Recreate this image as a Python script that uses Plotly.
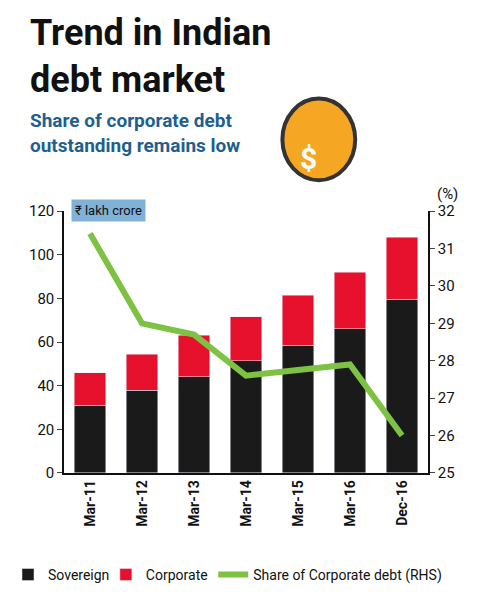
import plotly.graph_objects as go

categories = ["Mar-11","Mar-12","Mar-13","Mar-14","Mar-15","Mar-16","Dec-16"]
sovereign = [31, 38, 44, 51.5, 58.5, 66, 79.5]
corporate = [15, 16.5, 19, 20, 23, 26, 28.5]
share_corp = [31.4, 29.0, 28.7, 27.6, 27.75, 27.9, 26.0]

fig = go.Figure()
fig.add_bar(x=categories, y=sovereign, name="Sovereign", marker_color="#1a1a1a", width=0.6, legend="legend")
fig.add_bar(x=categories, y=corporate, name="Corporate", marker_color="#e8112d", width=0.6, legend="legend2")
fig.add_scatter(x=categories, y=share_corp, name="Share of Corporate debt (RHS)", yaxis="y2",
                mode="lines", line=dict(color="#7dc242", width=6), legend="legend3")

leg = dict(orientation="h", y=0.043, xanchor="left", yanchor="middle", font=dict(size=14),
           itemwidth=30, bgcolor="rgba(0,0,0,0)")
fig.update_layout(
    width=479, height=601, barmode="stack", plot_bgcolor="white", paper_bgcolor="white",
    margin=dict(l=55, r=59, t=0, b=0),
    font=dict(family="Roboto", color="#111", size=14),
    xaxis=dict(domain=[0,1], tickangle=-90, tickfont=dict(size=14, family="Roboto", color="#111"),
               tickprefix="<b>", ticksuffix="</b>",
               showline=True, linecolor="#111", linewidth=1.5, anchor="y"),
    yaxis=dict(domain=[0.218, 0.667], range=[0,120], dtick=20, showgrid=False,
               showline=True, linecolor="#111", linewidth=1.5, ticks="outside", ticklen=5,
               tickfont=dict(size=15)),
    yaxis2=dict(overlaying="y", side="right", range=[25,32], dtick=1, showgrid=False,
                showline=True, linecolor="#111", linewidth=1.5, ticks="outside", ticklen=5,
                tickfont=dict(size=15)),
    legend=dict(leg, x=-0.155),
    legend2=dict(leg, x=0.115),
    legend3=dict(leg, x=0.41),
    showlegend=True,
)
fig.add_annotation(text="<b>Trend in Indian<br>debt market</b>", xref="paper", yref="paper",
                   x=-0.1, y=1.012, xanchor="left", yanchor="top", showarrow=False, align="left",
                   font=dict(size=36, color="#111", family="Roboto"))
fig.add_annotation(text="<b>Share of corporate debt<br>outstanding remains low</b>", xref="paper", yref="paper",
                   x=-0.1, y=0.845, xanchor="left", yanchor="top", showarrow=False, align="left",
                   font=dict(size=19, color="#1f5f8f", family="Roboto"))
fig.add_annotation(text="₹ lakh crore", xref="paper", yref="paper", x=0.02, y=0.668,
                   xanchor="left", yanchor="middle", showarrow=False,
                   bgcolor="#7fb2d6", font=dict(size=13, color="#111"), borderpad=3)
fig.add_annotation(text="(%)", xref="paper", yref="paper", x=1.02, y=0.715,
                   xanchor="left", showarrow=False, font=dict(size=15))
# magnifier with coin
fig.add_shape(type="circle", xref="paper", yref="paper", x0=0.6, x1=0.8, y0=0.72, y1=0.86,
              line=dict(color="#333", width=4), fillcolor="#f5a623")
fig.add_annotation(text="<b>$</b>", xref="paper", yref="paper", x=0.7, y=0.79, showarrow=False,
                   font=dict(size=30, color="white"))
fig.write_html("out.html")
